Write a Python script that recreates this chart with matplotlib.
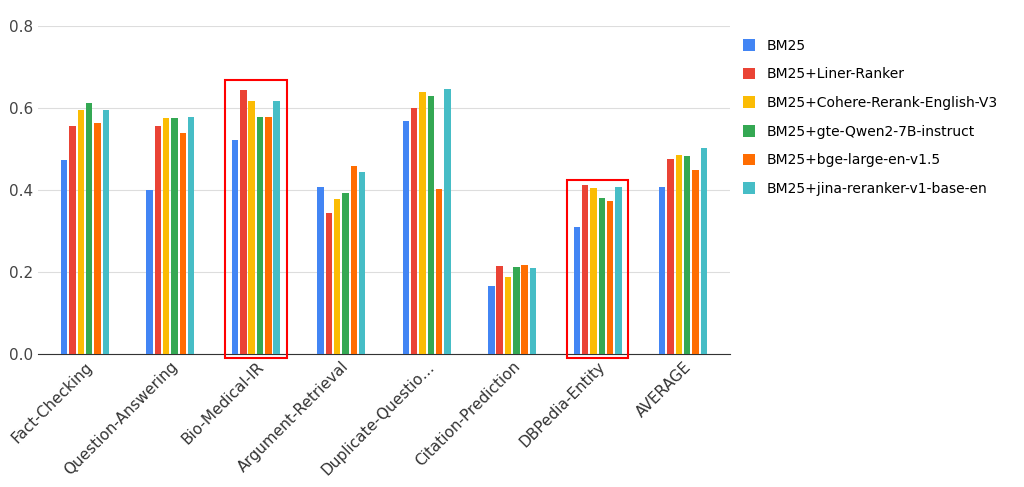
import matplotlib.pyplot as plt
import numpy as np
from matplotlib.patches import Rectangle

categories = ["Fact-Checking","Question-Answering","Bio-Medical-IR","Argument-Retrieval",
              "Duplicate-Questio…","Citation-Prediction","DBPedia-Entity","AVERAGE"]
series = ["BM25","BM25+Liner-Ranker","BM25+Cohere-Rerank-English-V3",
          "BM25+gte-Qwen2-7B-instruct","BM25+bge-large-en-v1.5","BM25+jina-reranker-v1-base-en"]
colors = ["#4285F4","#EA4335","#FBBC04","#34A853","#FF6D01","#46BDC6"]
values = [
    [0.473,0.400,0.522,0.407,0.568,0.166,0.310,0.407],
    [0.556,0.556,0.644,0.344,0.600,0.215,0.412,0.476],
    [0.595,0.576,0.617,0.378,0.639,0.188,0.405,0.485],
    [0.612,0.576,0.578,0.393,0.629,0.212,0.380,0.483],
    [0.563,0.539,0.578,0.459,0.402,0.217,0.373,0.449],
    [0.595,0.578,0.617,0.444,0.646,0.210,0.407,0.502],
]
highlight = [2, 6]

fig = plt.figure(figsize=(10.24,4.87), dpi=100)
ax = fig.add_axes([0.037, 0.273, 0.676, 0.673])
x = np.arange(len(categories))
w = 0.075
for i,(s,c,v) in enumerate(zip(series,colors,values)):
    ax.bar(x+(i-2.5)*w*1.3, v, w, color=c, label=s, zorder=3)
ax.set_ylim(0,0.8)
ax.set_xlim(-0.55,7.55)
ax.set_yticks([0,0.2,0.4,0.6,0.8])
ax.set_yticklabels(["0.0","0.2","0.4","0.6","0.8"], fontsize=11, color="#444")
ax.grid(axis="y", color="#ddd", zorder=0)
for s in ["top","right","left"]:
    ax.spines[s].set_visible(False)
ax.spines["bottom"].set_color("#333")
ax.tick_params(axis="both", length=0)
ax.set_xticks(x)
ax.set_xticklabels(categories, rotation=45, ha="right", rotation_mode="anchor", fontsize=11, color="#333")
for h in highlight:
    ax.add_patch(Rectangle((h-0.36,-0.01), 0.72, 0.68 if h==2 else 0.435, fill=False,
                           edgecolor="red", lw=1.5, zorder=5, clip_on=False))
ax.legend(loc="upper left", bbox_to_anchor=(1.0,1.0), frameon=False, fontsize=10,
          handlelength=0.9, handleheight=0.9, labelspacing=1.05)
fig.savefig("out.png")
